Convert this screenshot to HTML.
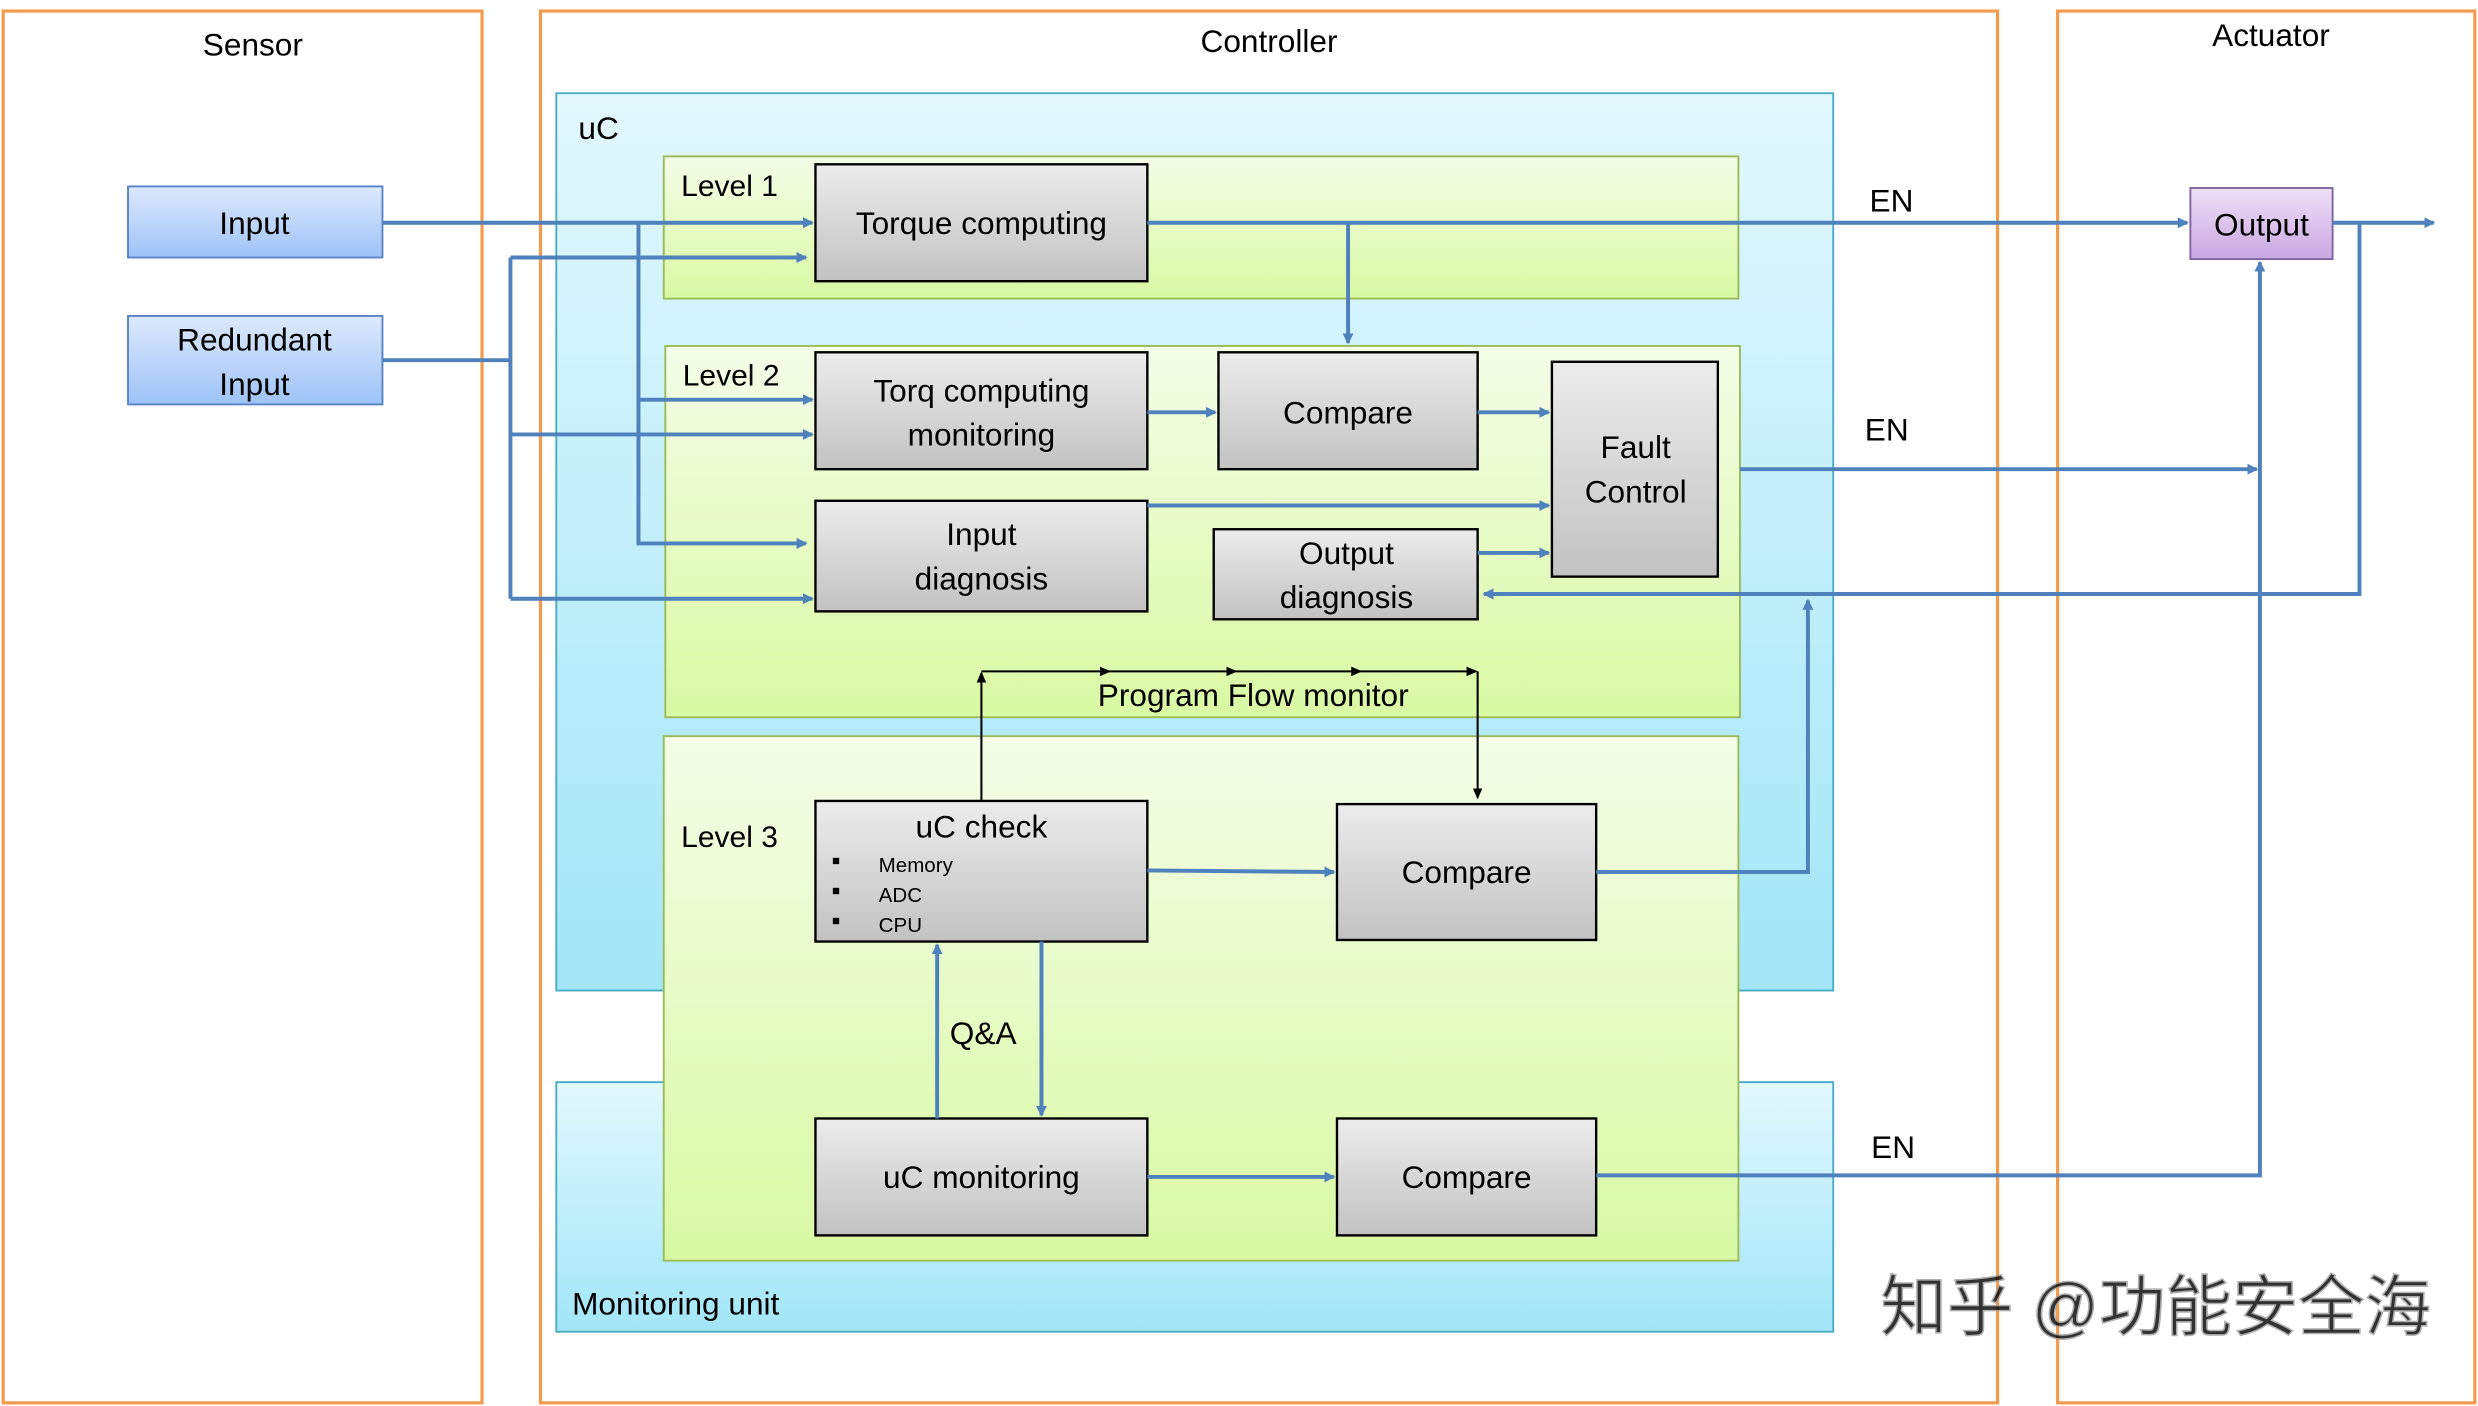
<!DOCTYPE html>
<html><head><meta charset="utf-8"><style>
html,body{margin:0;padding:0;background:#fff;}
svg{display:block;}
text{font-family:"Liberation Sans","Noto Sans CJK SC",sans-serif;fill:#000;}
</style></head><body>
<svg width="2478" height="1406" viewBox="0 0 1568 890" preserveAspectRatio="none" xmlns="http://www.w3.org/2000/svg">
<defs>
<linearGradient id="gb" x1="0" y1="0" x2="0" y2="1"><stop offset="0" stop-color="#e2f8fd"/><stop offset="1" stop-color="#a2e6f8"/></linearGradient>
<linearGradient id="gg" x1="0" y1="0" x2="0" y2="1"><stop offset="0" stop-color="#f4fde8"/><stop offset="1" stop-color="#d9f9a3"/></linearGradient>
<linearGradient id="gy" x1="0" y1="0" x2="0" y2="1"><stop offset="0" stop-color="#ececec"/><stop offset="1" stop-color="#c2c2c2"/></linearGradient>
<linearGradient id="gi" x1="0" y1="0" x2="0" y2="1"><stop offset="0" stop-color="#dde9fc"/><stop offset="1" stop-color="#9ec3f7"/></linearGradient>
<linearGradient id="gp" x1="0" y1="0" x2="0" y2="1"><stop offset="0" stop-color="#efe0f7"/><stop offset="1" stop-color="#c9a8e2"/></linearGradient>
<marker id="a" markerWidth="8" markerHeight="8" refX="6" refY="4" orient="auto" markerUnits="userSpaceOnUse"><path d="M0,0.5 L7,4 L0,7.5 z" fill="#4f81bd"/></marker>
<marker id="k" markerWidth="8" markerHeight="8" refX="6" refY="4" orient="auto" markerUnits="userSpaceOnUse"><path d="M0,1 L7,4 L0,7 z" fill="#000"/></marker>
</defs>

<!-- orange frames -->
<g fill="none" stroke="#f29a4e" stroke-width="2">
<rect x="2" y="7" width="303" height="881"/>
<rect x="342" y="7" width="922" height="881"/>
<rect x="1302" y="7" width="264" height="881"/>
</g>
<text x="160" y="35" font-size="20" text-anchor="middle">Sensor</text>
<text x="803" y="33" font-size="20" text-anchor="middle">Controller</text>
<text x="1437" y="29" font-size="20" text-anchor="middle">Actuator</text>

<!-- blue containers -->
<rect x="352" y="59" width="808" height="568" fill="url(#gb)" stroke="#4bacc6" stroke-width="1.2"/>
<rect x="352" y="685" width="808" height="158" fill="url(#gb)" stroke="#4bacc6" stroke-width="1.2"/>
<text x="366" y="88" font-size="20">uC</text>
<text x="362" y="832" font-size="20">Monitoring unit</text>

<!-- green levels -->
<g stroke="#9bbb59" stroke-width="1.2" fill="url(#gg)">
<rect x="420" y="99" width="680" height="90"/>
<rect x="421" y="219" width="680" height="235"/>
<rect x="420" y="466" width="680" height="332"/>
</g>
<text x="431" y="124" font-size="19">Level 1</text>
<text x="432" y="244" font-size="19">Level 2</text>
<text x="431" y="536" font-size="19">Level 3</text>

<!-- sensor boxes -->
<g stroke="#5a84c8" stroke-width="1.2" fill="url(#gi)">
<rect x="81" y="118" width="161" height="45"/>
<rect x="81" y="200" width="161" height="56"/>
<rect x="1386" y="119" width="90" height="45" fill="url(#gp)" stroke="#8064a2"/>
</g>
<text x="161" y="148" font-size="20" text-anchor="middle">Input</text>
<text x="161" y="222" font-size="20" text-anchor="middle">Redundant</text>
<text x="161" y="250" font-size="20" text-anchor="middle">Input</text>
<text x="1431" y="149" font-size="20" text-anchor="middle">Output</text>

<!-- grey boxes -->
<g stroke="#000" stroke-width="1.5" fill="url(#gy)">
<rect x="516" y="104" width="210" height="74"/>
<rect x="516" y="223" width="210" height="74"/>
<rect x="771" y="223" width="164" height="74"/>
<rect x="982" y="229" width="105" height="136"/>
<rect x="516" y="317" width="210" height="70"/>
<rect x="768" y="335" width="167" height="57"/>
<rect x="516" y="507" width="210" height="89"/>
<rect x="846" y="509" width="164" height="86"/>
<rect x="516" y="708" width="210" height="74"/>
<rect x="846" y="708" width="164" height="74"/>
</g>
<g font-size="20" text-anchor="middle">
<text x="621" y="148">Torque computing</text>
<text x="621" y="254">Torq computing</text>
<text x="621" y="282">monitoring</text>
<text x="853" y="268">Compare</text>
<text x="1035" y="290">Fault</text>
<text x="1035" y="318">Control</text>
<text x="621" y="345">Input</text>
<text x="621" y="373">diagnosis</text>
<text x="852" y="357">Output</text>
<text x="852" y="385">diagnosis</text>
<text x="621" y="530">uC check</text>
<text x="928" y="559">Compare</text>
<text x="621" y="752">uC monitoring</text>
<text x="928" y="752">Compare</text>
</g>
<g font-size="13">
<rect x="527" y="543" width="4" height="4" fill="#000"/><text x="556" y="552">Memory</text>
<rect x="527" y="562" width="4" height="4" fill="#000"/><text x="556" y="571">ADC</text>
<rect x="527" y="581" width="4" height="4" fill="#000"/><text x="556" y="590">CPU</text>
</g>

<!-- blue connectors -->
<g fill="none" stroke="#4f81bd" stroke-width="2.5">
<path d="M242,141 H514" marker-end="url(#a)"/>
<path d="M404,141 V344 H510" marker-end="url(#a)"/>
<path d="M404,253 H514" marker-end="url(#a)"/>
<path d="M242,228 H323"/>
<path d="M323,163 V379"/>
<path d="M323,163 H510" marker-end="url(#a)"/>
<path d="M323,275 H514" marker-end="url(#a)"/>
<path d="M323,379 H514" marker-end="url(#a)"/>
<path d="M726,141 H1384" marker-end="url(#a)"/>
<path d="M853,141 V217" marker-end="url(#a)"/>
<path d="M1476,141 H1540" marker-end="url(#a)"/>
<path d="M1493,141 V376 H939" marker-end="url(#a)"/>
<path d="M726,261 H769" marker-end="url(#a)"/>
<path d="M935,261 H980" marker-end="url(#a)"/>
<path d="M726,320 H980" marker-end="url(#a)"/>
<path d="M935,350 H980" marker-end="url(#a)"/>
<path d="M1101,297 H1428" marker-end="url(#a)"/>
<path d="M726,551 L844,552" marker-end="url(#a)"/>
<path d="M1010,552 H1144 V380" marker-end="url(#a)"/>
<path d="M1010,744 H1430 V166" marker-end="url(#a)"/>
<path d="M726,745 H844" marker-end="url(#a)"/>
<path d="M593,708 V598" marker-end="url(#a)"/>
<path d="M659,596 V706" marker-end="url(#a)"/>
</g>
<text x="1183" y="134" font-size="20">EN</text>
<text x="1180" y="279" font-size="20">EN</text>
<text x="1184" y="733" font-size="20">EN</text>
<text x="601" y="661" font-size="20">Q&amp;A</text>

<!-- program flow -->
<g fill="none" stroke="#000" stroke-width="1.3">
<path d="M621,507 V426" marker-end="url(#k)"/>
<path d="M621,425 H702" marker-end="url(#k)"/>
<path d="M702,425 H782" marker-end="url(#k)"/>
<path d="M782,425 H861" marker-end="url(#k)"/>
<path d="M861,425 H934" marker-end="url(#k)"/>
<path d="M935,425 V505" marker-end="url(#k)"/>
</g>
<text x="793" y="447" font-size="20" text-anchor="middle">Program Flow monitor</text>

<!-- watermark -->
<text x="1190" y="842" font-size="42" fill="#ffffff" stroke="#9a9a9a" stroke-width="1" opacity="0.8">知乎 @功能安全海</text>
</svg>
</body></html>
